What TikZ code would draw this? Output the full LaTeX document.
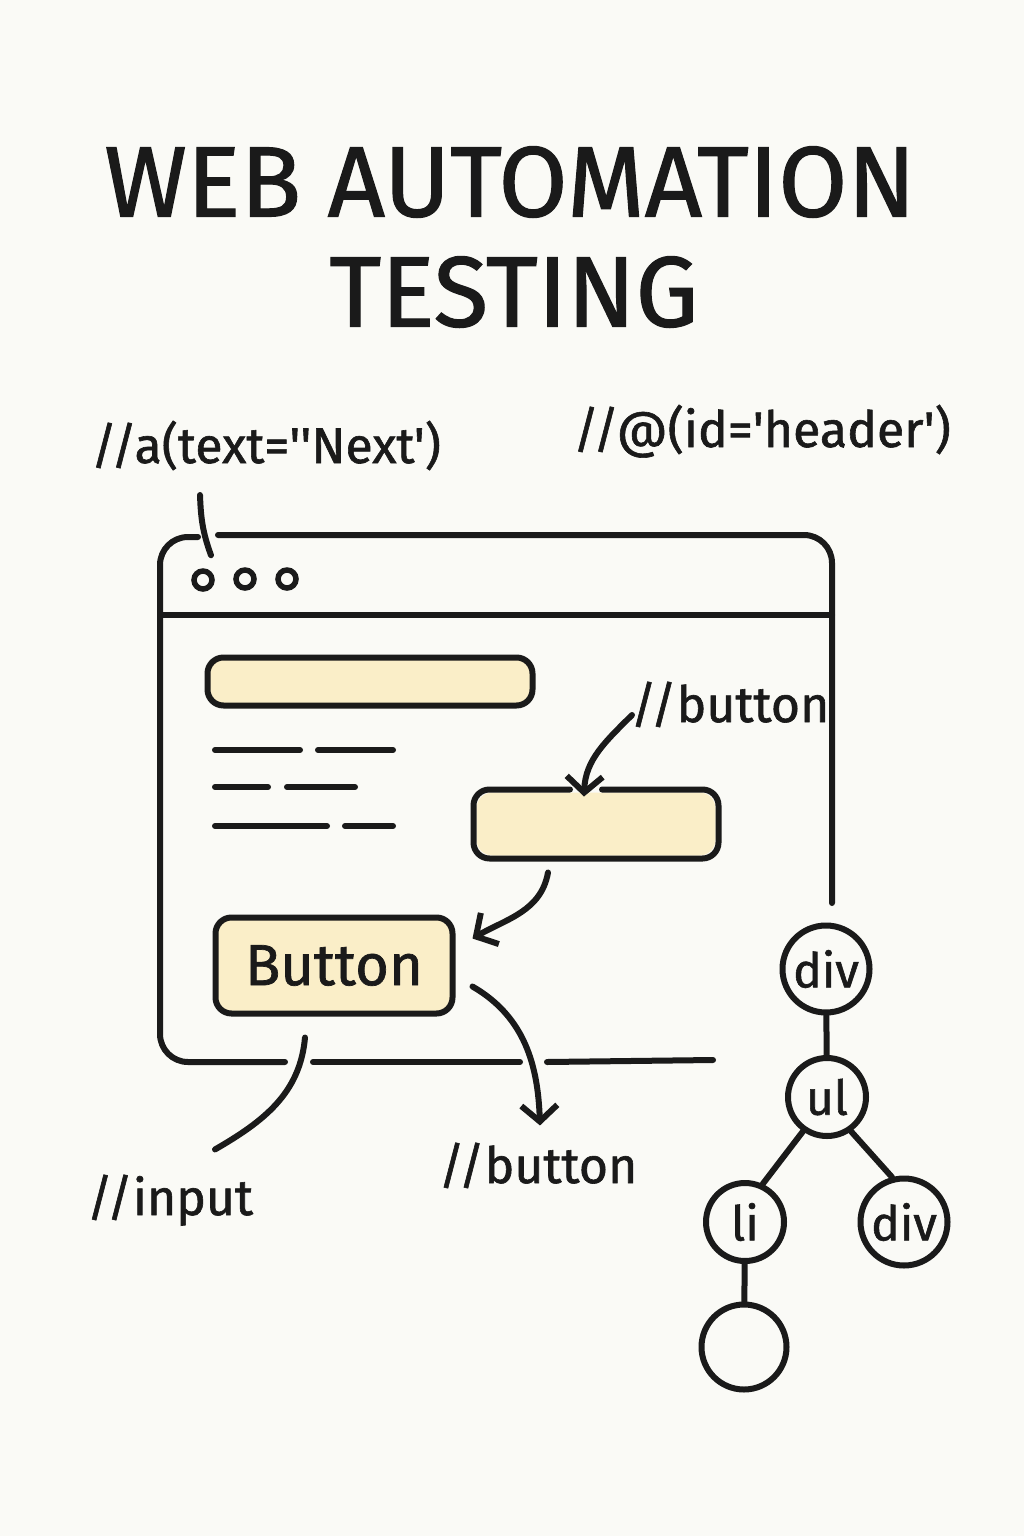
\documentclass[tikz,border=0pt]{standalone}
\usepackage{fontspec}
\newfontfamily\hand[FakeBold=1.2]{Fira Sans}
\usetikzlibrary{arrows.meta}
\definecolor{paper}{HTML}{FAFAF6}
\definecolor{ink}{HTML}{1A1A1A}
\definecolor{cream}{HTML}{FAEEC8}

\begin{document}
\begin{tikzpicture}[
    x=1pt, y=1pt,
    frame/.style={draw=ink, line width=6pt, line cap=round},
    box/.style={rectangle, rounded corners=16pt, fill=cream, draw=ink, line width=6pt, inner sep=0pt},
    tag/.style={font=\hand\fontsize{50}{52}\selectfont, text=ink, inner sep=0pt},
    leaf/.style={circle, draw=ink, line width=6pt, inner sep=0pt, text=ink, font=\hand\fontsize{48}{50}\selectfont},
    dot/.style={circle, draw=ink, line width=5.5pt, minimum size=18pt, inner sep=0pt},
    line/.style={-{Straight Barb[length=16pt, width=36pt, line width=6pt]}, draw=ink, line width=6pt, line cap=round},
    link/.style={draw=ink, line width=6pt, line cap=round}
]
\fill[paper] (0,0) rectangle (1024,-1536);
\useasboundingbox (0,0) rectangle (1024,-1536);

% Titre
\node[font=\hand\fontsize{100}{100}\selectfont, text=ink] (title1) at (510,-182) {WEB AUTOMATION};
\node[font=\hand\fontsize{100}{100}\selectfont, text=ink] (title2) at (514,-292) {TESTING};

% Etiquettes
\node[tag, anchor=base] (nextlbl) at (266,-463) {//a(text=''Next')};
\node[tag, anchor=base] (headlbl) at (762,-447) {//@(id='header')};
\node[tag, anchor=base] (btnlbl) at (730,-722) {//button};
\node[tag, anchor=base] (btnlbl2) at (538,-1183) {//button};
\node[tag, anchor=base] (inlbl) at (170,-1215) {//input};

% Fenetre
\draw[frame, rounded corners=28pt] (198,-537) -- (160,-537) -- (160,-1062) -- (285,-1062);
\draw[frame, rounded corners=28pt] (218,-535) -- (832,-535) -- (832,-903);
\draw[frame] (160,-615) -- (832,-615);
\draw[frame] (313,-1062) -- (520,-1062);
\draw[frame] (547,-1062) -- (713,-1060);
\node[dot] (dot1) at (203,-580) {};
\node[dot] (dot2) at (245,-579) {};
\node[dot] (dot3) at (287,-579) {};

% Contenu
\node[box, minimum width=325pt, minimum height=48pt] (bar) at (370,-681.5) {};
\foreach \y/\a/\b/\c/\d in {750/215/300/318/393, 787/215/268/287/355, 826/215/327/345/393}
    \draw[frame] (\a,-\y) -- (\b,-\y) (\c,-\y) -- (\d,-\y);
\node[box, draw=none, minimum width=239pt, minimum height=63pt] (btn2) at (596,-824) {};
\draw[frame, rounded corners=16pt] ([xshift=-26pt]btn2.north) -| (btn2.south west) -| (btn2.north east) -- ([xshift=6pt]btn2.north);
\node[box, minimum width=237pt, minimum height=96pt, font=\hand\fontsize{58}{60}\selectfont, text=ink] (btnmain) at (334,-965.5) {Button};

% Fleches
\draw[link] ([shift={(-66,-32)}]nextlbl.base) to[out=-88, in=110] ([shift={(8,13)}]dot1.north);
\draw[line] ([shift={(-98,7)}]btnlbl.base) to[out=-135, in=88] ([shift={(-12,-7)}]btn2.north);
\draw[line] ([shift={(-48,-14)}]btn2.south) to[out=-100, in=30] ([shift={(17,27)}]btnmain.east);
\draw[line] ([shift={(17,-21)}]btnmain.east) to[out=-30, in=92] ([shift={(2,17)}]btnlbl2.north);
\draw[link] ([shift={(-29,-21)}]btnmain.south) to[out=-95, in=30] ([shift={(45,25)}]inlbl.north);

% Arbre DOM
\node[leaf, minimum size=87pt] (div) at (826,-969) {div};
\node[leaf, minimum size=78pt] (ul) at (827,-1097) {ul};
\node[leaf, minimum size=78pt] (li) at (745,-1222) {li};
\node[leaf, minimum size=87pt] (div2) at (904,-1222) {div};
\node[leaf, minimum size=85pt] (empty) at (744,-1347) {};
\draw[link] (div) -- (ul);
\draw[link] (ul.-125) -- (li.65);
\draw[link] (ul.-55) -- (div2.105);
\draw[link] (li) -- (empty);

\end{tikzpicture}
\end{document}
